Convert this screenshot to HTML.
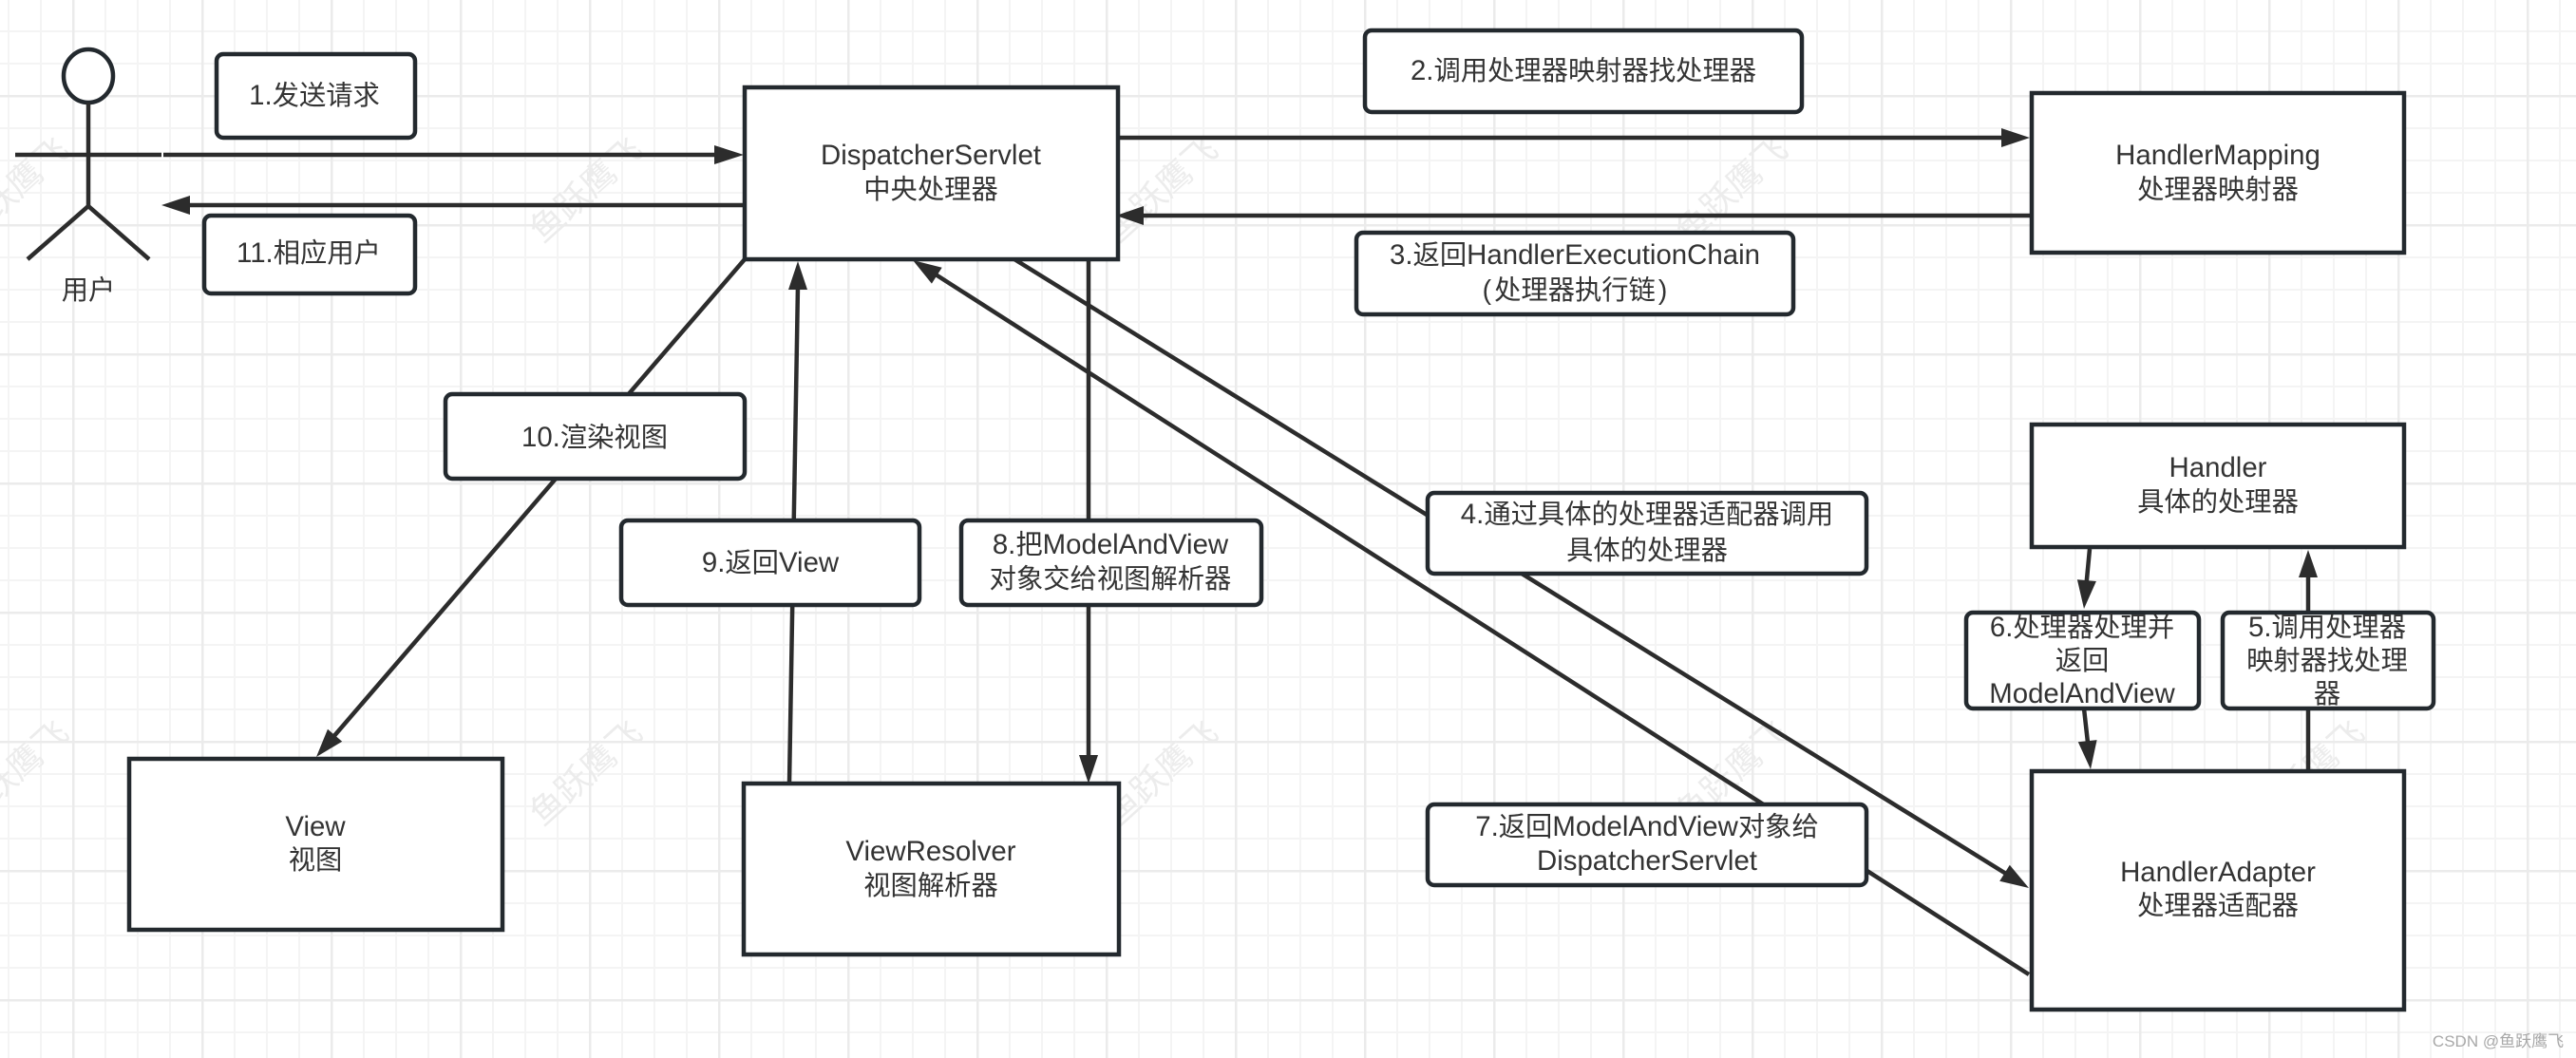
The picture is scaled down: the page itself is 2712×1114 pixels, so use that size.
<!DOCTYPE html>
<html><head><meta charset="utf-8"><style>
html,body{margin:0;padding:0;background:#fff;width:2712px;height:1114px;overflow:hidden}
svg{display:block}
text{font-family:"Liberation Sans","Noto Sans CJK SC",sans-serif;font-size:28.3px;fill:#333;text-anchor:middle}
.e{font-size:29.4px}
text.wm{font-size:36px;fill:#ececec;font-family:"Noto Sans CJK SC",sans-serif}
.b{fill:#fff;stroke:#23292e;stroke-width:4.5}
.l{fill:#fff;stroke:#23292e;stroke-width:4.5}
.c{stroke:#2c2c2c;stroke-width:4.5;fill:none}
.a{fill:#2c2c2c;stroke:none}
</style></head><body>
<svg width="2712" height="1114" viewBox="0 0 2712 1114" xmlns="http://www.w3.org/2000/svg">
<defs>
<pattern id="g1" patternUnits="userSpaceOnUse" x="8" y="32" width="34" height="34"><rect width="34" height="2" fill="#f4f4f4"/><rect width="2" height="34" fill="#f4f4f4"/></pattern>
<pattern id="g2" patternUnits="userSpaceOnUse" x="76" y="100" width="136" height="136"><rect width="136" height="2.5" fill="#ebebeb"/><rect width="2.5" height="136" fill="#ebebeb"/></pattern>
</defs>
<rect width="2712" height="1114" fill="#fff"/>
<rect width="2712" height="1114" fill="url(#g1)"/>
<rect width="2712" height="1114" fill="url(#g2)"/>

<g class="wms">
<text class="wm" transform="translate(21,209) rotate(-42)">鱼跃鹰飞</text>
<text class="wm" transform="translate(625,209) rotate(-42)">鱼跃鹰飞</text>
<text class="wm" transform="translate(1231,209) rotate(-42)">鱼跃鹰飞</text>
<text class="wm" transform="translate(1831,209) rotate(-42)">鱼跃鹰飞</text>
<text class="wm" transform="translate(2438,209) rotate(-42)">鱼跃鹰飞</text>
<text class="wm" transform="translate(21,823) rotate(-42)">鱼跃鹰飞</text>
<text class="wm" transform="translate(625,823) rotate(-42)">鱼跃鹰飞</text>
<text class="wm" transform="translate(1231,823) rotate(-42)">鱼跃鹰飞</text>
<text class="wm" transform="translate(1831,823) rotate(-42)">鱼跃鹰飞</text>
<text class="wm" transform="translate(2438,823) rotate(-42)">鱼跃鹰飞</text>
</g>

<!-- actor -->
<ellipse cx="93" cy="80" rx="26" ry="28" fill="#fff" stroke="#23292e" stroke-width="4.5"/>
<line class="c" x1="93" y1="108" x2="93" y2="217" stroke-width="4"/>
<polyline class="c" points="29,273 93,217 157,273"/>
<line class="c" x1="16" y1="163" x2="170" y2="163"/>
<text x="93" y="315">用户</text>

<!-- connectors -->
<line class="c" x1="172" y1="163" x2="755" y2="163"/>
<polygon class="a" points="783,163 752,153 752,173"/>
<line class="c" x1="783" y1="216" x2="198" y2="216"/>
<polygon class="a" points="170,216 200,206 200,226"/>
<line class="c" x1="1177" y1="145" x2="2110" y2="145"/>
<polygon class="a" points="2137,145 2107,135 2107,155"/>
<line class="c" x1="2139" y1="227" x2="1202" y2="227"/>
<polygon class="a" points="1175,227 1204,217 1204,237"/>

<line class="c" x1="784" y1="273" x2="350" y2="777"/>
<polygon class="a" points="333,797 360.2,780.8 345,767.8"/>

<line class="c" x1="831" y1="825" x2="840" y2="300"/>
<polygon class="a" points="840,275 830,305 850,305"/>

<line class="c" x1="1146" y1="273" x2="1146" y2="800"/>
<polygon class="a" points="1146,825 1136,795 1156,795"/>

<line class="c" x1="1068" y1="273" x2="2112" y2="920"/>
<polygon class="a" points="2136,935 2105.2,927.7 2115.8,910.7"/>

<line class="c" x1="2136" y1="1026" x2="985" y2="289"/>
<polygon class="a" points="961,274 991.7,281.8 980.9,298.6"/>

<line class="c" x1="2200" y1="578" x2="2196.5" y2="615"/>
<polygon class="a" points="2194,641 2206.9,612 2186.9,610.2"/>
<line class="c" x1="2194" y1="746" x2="2198" y2="782"/>
<polygon class="a" points="2201,810 2207.6,779.1 2187.8,781.3"/>
<line class="c" x1="2430" y1="812" x2="2430" y2="605"/>
<polygon class="a" points="2430,579 2420,608 2440,608"/>

<!-- main boxes -->
<rect class="b" x="784" y="92" width="393" height="181"/>
<rect class="b" x="2139" y="98" width="392" height="168"/>
<rect class="b" x="2139" y="447" width="392" height="129"/>
<rect class="b" x="2139" y="812" width="392" height="251"/>
<rect class="b" x="136" y="799" width="393" height="180"/>
<rect class="b" x="783" y="825" width="395" height="180"/>

<!-- labels -->
<rect class="l" x="228" y="57" width="209" height="88" rx="7"/>
<rect class="l" x="215" y="227" width="222" height="82" rx="7"/>
<rect class="l" x="1437" y="32" width="460" height="86" rx="7"/>
<rect class="l" x="1428" y="245" width="460" height="86" rx="7"/>
<rect class="l" x="654" y="548" width="314" height="89" rx="7"/>
<rect class="l" x="1012" y="548" width="316" height="89" rx="7"/>
<rect class="l" x="469" y="415" width="315" height="89" rx="7"/>
<rect class="l" x="1503" y="519" width="462" height="85" rx="7"/>
<rect class="l" x="1503" y="847" width="462" height="85" rx="7"/>
<rect class="l" x="2070" y="645" width="245" height="101" rx="7"/>
<rect class="l" x="2340" y="645" width="222" height="101" rx="7"/>

<!-- text -->
<text x="980" y="173" class="e">DispatcherServlet</text>
<text x="980" y="209">中央处理器</text>
<text x="2335" y="173" class="e">HandlerMapping</text>
<text x="2335" y="209">处理器映射器</text>
<text x="2335" y="502" class="e">Handler</text>
<text x="2335" y="538">具体的处理器</text>
<text x="2335" y="928" class="e">HandlerAdapter</text>
<text x="2335" y="963">处理器适配器</text>
<text x="332" y="880" class="e">View</text>
<text x="332" y="915">视图</text>
<text x="980" y="906" class="e">ViewResolver</text>
<text x="980" y="942">视图解析器</text>
<text x="331" y="110"><tspan class="e">1.</tspan>发送请求</text>
<text x="325" y="276"><tspan class="e">11.</tspan>相应用户</text>
<text x="1667" y="84"><tspan class="e">2.</tspan>调用处理器映射器找处理器</text>
<text x="1658" y="278"><tspan class="e">3.</tspan>返回<tspan class="e">HandlerExecutionChain</tspan></text>
<text x="1658" y="315">(<tspan dx="3">处理器执行链</tspan><tspan dx="3">)</tspan></text>
<text x="811" y="602"><tspan class="e">9.</tspan>返回<tspan class="e">View</tspan></text>
<text x="1169" y="583"><tspan class="e">8.</tspan>把<tspan class="e">ModelAndView</tspan></text>
<text x="1169" y="619">对象交给视图解析器</text>
<text x="626" y="470"><tspan class="e">10.</tspan>渲染视图</text>
<text x="1734" y="551"><tspan class="e">4.</tspan>通过具体的处理器适配器调用</text>
<text x="1734" y="589">具体的处理器</text>
<text x="1734" y="880"><tspan class="e">7.</tspan>返回<tspan class="e">ModelAndView</tspan>对象给</text>
<text x="1734" y="916" class="e">DispatcherServlet</text>
<text x="2192" y="670"><tspan class="e">6.</tspan>处理器处理并</text>
<text x="2192" y="705">返回</text>
<text x="2192" y="740" class="e">ModelAndView</text>
<text x="2450" y="670"><tspan class="e">5.</tspan>调用处理器</text>
<text x="2450" y="705">映射器找处理</text>
<text x="2450" y="740">器</text>
<text x="2630" y="1102" style="font-size:17px;fill:#a8a8a8">CSDN @鱼跃鹰飞</text>
</svg>
</body></html>
